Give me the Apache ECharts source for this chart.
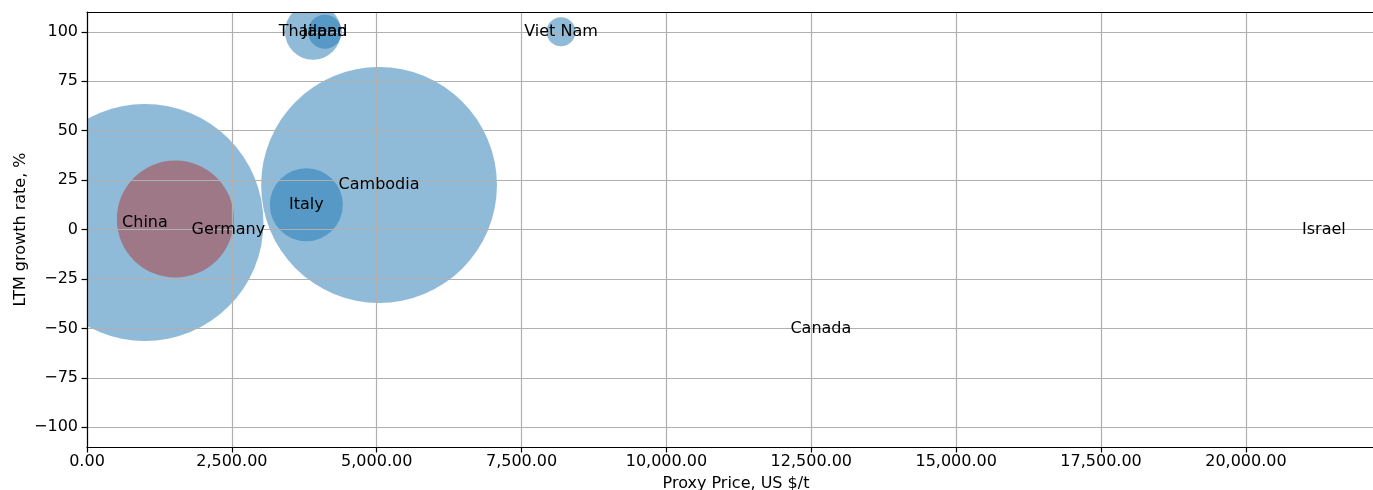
<!DOCTYPE html>
<html>
<head>
<meta charset="utf-8">
<title>Proxy price vs LTM growth</title>
<script src="https://cdn.jsdelivr.net/npm/echarts@6.0.0/dist/echarts.min.js"></script>
<style>
html, body { margin: 0; padding: 0; background: #fff; }
#bubbleChart { width: 1373px; height: 490px; }
</style>
</head>
<body>
<div id="bubbleChart"></div>
<script>
// countries shown as labelled bubbles
const countries = ['China', 'Germany', 'Italy', 'Cambodia', 'Thailand', 'Japan', 'Viet Nam', 'Canada', 'Israel'];
const proxyPrice = [1000, 2440, 3785, 5040, 3900, 4105, 8180, 12665, 21345];
const growthRate = [3.5, 0, 12.5, 22.5, 100, 100, 100, -50, 0];
const importVolume = [10000, 0, 950, 9900, 560, 205, 150, 0, 0];

// the unlabelled reddish bubble
const highlightPrice = [1525];
const highlightGrowth = [5.3];
const highlightVolume = [2440];

const xTicks = [0, 2500, 5000, 7500, 10000, 12500, 15000, 17500, 20000];
const yTicks = [-100, -75, -50, -25, 0, 25, 50, 75, 100];

const font = 'DejaVu Sans';
const gridLeft = 87, gridTop = 12, gridRight = -12, gridBottom = 43;

let myChart = echarts.init(document.getElementById('bubbleChart'));

const bubbleSize = d => 2.37 * Math.sqrt(d[2]);
const mainData = countries.map((c, i) => [proxyPrice[i], growthRate[i], importVolume[i], c]);
const highlightData = highlightPrice.map((p, i) => [p, highlightGrowth[i], highlightVolume[i]]);

const fmtPrice = v => v.toLocaleString('en-US', { minimumFractionDigits: 2, maximumFractionDigits: 2 });
const fmtRate = v => (v < 0 ? '\u2212' + (-v) : String(v));

const spine = { color: '#000', width: 1.2 };
const gridLine = { color: '#b0b0b0', width: 1.2 };
const tickText = { fontSize: 16, color: '#000', fontFamily: font };

let option = {
    animation: false,
    grid: {
        left: gridLeft, top: gridTop, right: gridRight, bottom: gridBottom,
        containLabel: false,
        outerBoundsMode: 'none'
    },
    xAxis: [
        {
            type: 'value',
            min: 0,
            max: 22400,
            position: 'bottom',
            z: 5,
            axisLine: { show: true, onZero: false, lineStyle: spine },
            axisTick: { show: true, customValues: xTicks, length: 5.5, lineStyle: spine },
            axisLabel: { customValues: xTicks, formatter: fmtPrice, margin: 7, ...tickText },
            splitLine: { show: true, lineStyle: gridLine },
            name: 'Proxy Price, US $/t',
            nameLocation: 'middle',
            nameGap: 29,
            nameMoveOverlap: false,
            nameTextStyle: { ...tickText }
        },
        {
            // top spine only
            type: 'value',
            min: 0,
            max: 22400,
            position: 'top',
            z: 5,
            axisLine: { show: true, onZero: false, lineStyle: spine },
            axisTick: { show: false },
            axisLabel: { show: false },
            splitLine: { show: false }
        }
    ],
    yAxis: {
        type: 'value',
        min: -110,
        max: 110,
        z: 5,
        axisLine: { show: true, onZero: false, lineStyle: spine },
        axisTick: { show: true, customValues: yTicks, length: 5.5, lineStyle: spine },
        axisLabel: { customValues: yTicks, formatter: fmtRate, margin: 9, ...tickText },
        splitLine: { show: true, lineStyle: gridLine },
        name: 'LTM growth rate, %',
        nameLocation: 'middle',
        nameRotate: 90,
        nameGap: 58,
        nameMoveOverlap: false,
        nameTextStyle: { ...tickText }
    },
    // white covers so bubbles are clipped at the axes box like the original
    graphic: [
        { type: 'rect', left: 0, top: 0, z: 4, shape: { width: gridLeft, height: 490 }, style: { fill: '#fff' } },
        { type: 'rect', left: 0, top: 0, z: 4, shape: { width: 1373, height: gridTop }, style: { fill: '#fff' } }
    ],
    series: [
        {
            name: 'bubbles',
            type: 'scatter',
            z: 2,
            data: mainData,
            symbolSize: bubbleSize,
            itemStyle: { color: 'rgba(31,119,180,0.5)', opacity: 1 },
            emphasis: { disabled: true }
        },
        {
            name: 'highlight',
            type: 'scatter',
            z: 3,
            data: highlightData,
            symbolSize: bubbleSize,
            itemStyle: { color: 'rgba(173,53,53,0.5)', opacity: 1 },
            emphasis: { disabled: true }
        },
        {
            name: 'labels',
            type: 'scatter',
            z: 10,
            data: mainData,
            symbolSize: 1,
            itemStyle: { color: 'rgba(0,0,0,0)', opacity: 1 },
            label: {
                show: true,
                position: 'inside',
                formatter: p => p.data[3],
                textBorderWidth: 0,
                ...tickText
            },
            emphasis: { disabled: true }
        }
    ]
};
myChart.setOption(option);
window.addEventListener('resize', function () {
    myChart.resize();
});
</script>
</body>
</html>
